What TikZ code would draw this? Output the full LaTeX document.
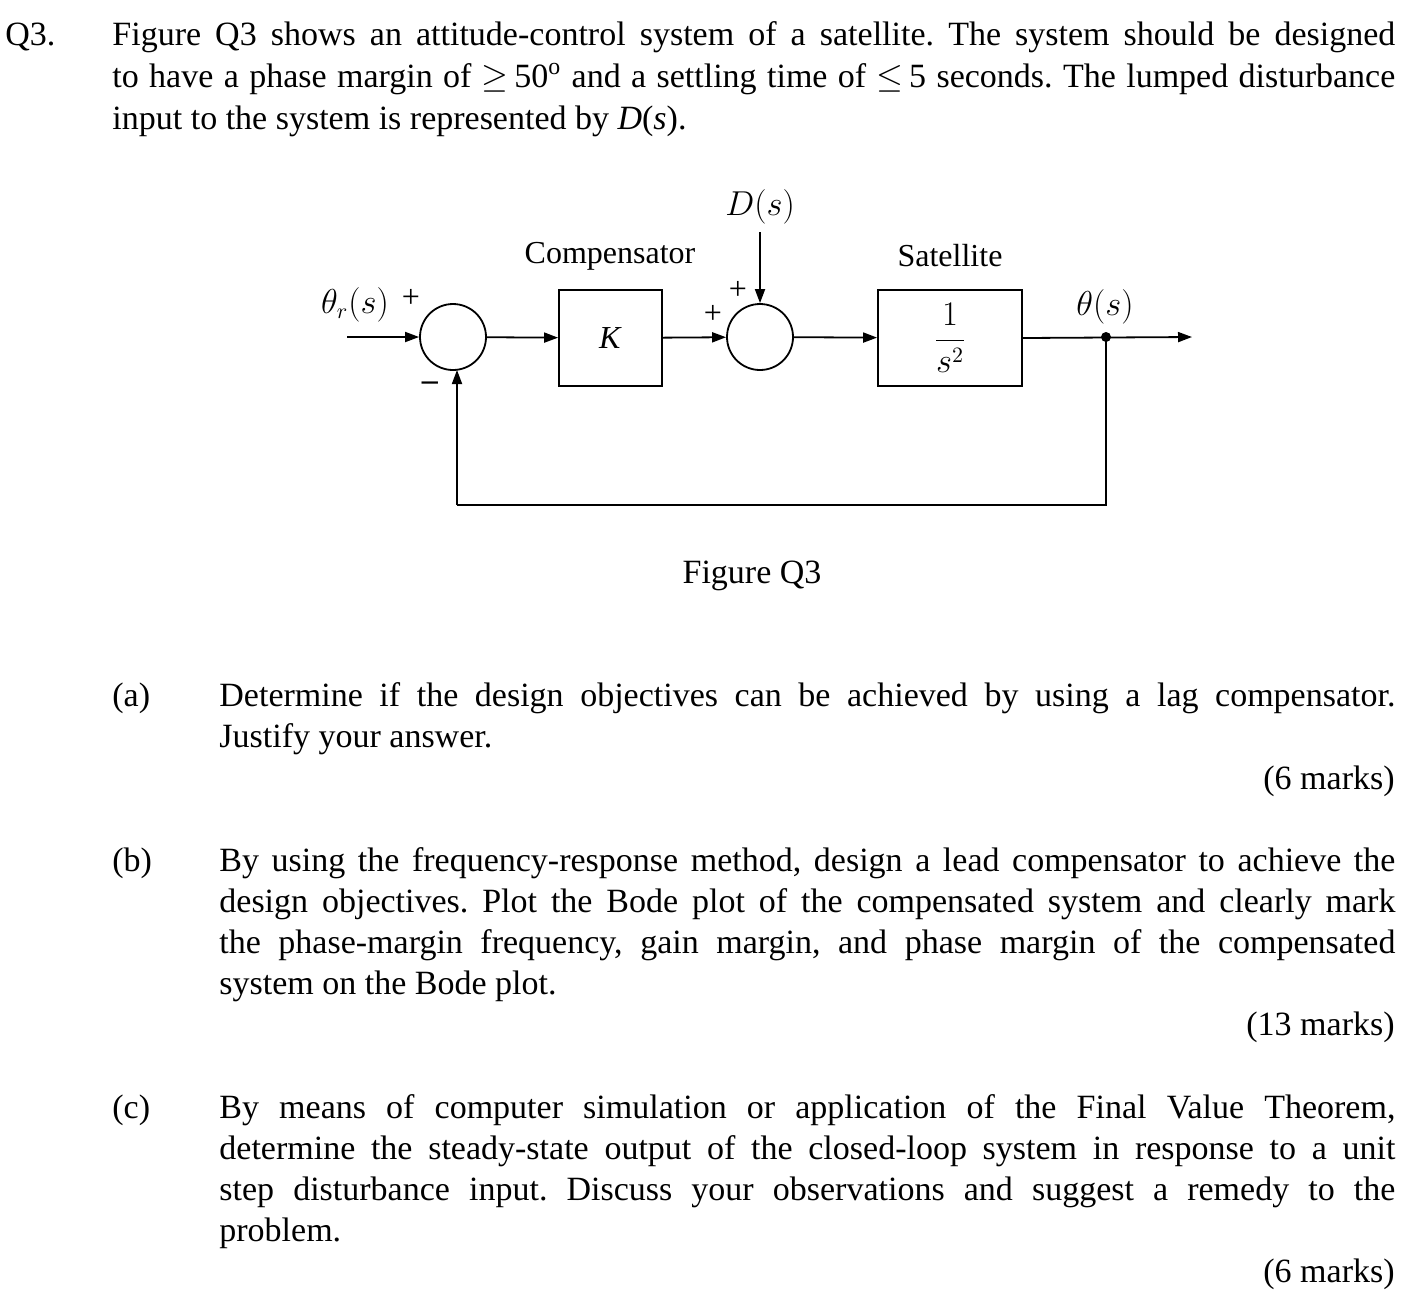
\documentclass[tikz,border=0pt]{standalone}
\usepackage{fontspec}
\setmainfont{Liberation Serif}
\usetikzlibrary{arrows.meta}
\frenchspacing
\begin{document}
\begin{tikzpicture}[x=0.5pt,y=-0.5pt,
  txt/.style={anchor=base west,inner sep=0,font=\fontsize{17}{20}\selectfont},
  txr/.style={anchor=base east,inner sep=0,font=\fontsize{17}{20}\selectfont},
  lab/.style={inner sep=0,font=\fontsize{16}{19}\selectfont},
  blk/.style={draw,line width=0.9pt,minimum width=51.5pt,minimum height=48pt,inner sep=0},
  sum/.style={draw,circle,line width=0.9pt,minimum size=33pt,inner sep=0},
  sig/.style={line width=0.9pt,-{Triangle[length=7pt,width=5pt]}},
  ln/.style={line width=0.9pt}]
\useasboundingbox (0,0) rectangle (1428,1308);
% header
\node[txt] (q) at (5,45) {Q3.};
\node[txt] (l1) at (112,45) {\makebox[641.5pt][s]{Figure Q3 shows an attitude-control system of a satellite. The system should be designed}};
\node[txt] (l2) at (112,87) {\makebox[641.5pt][s]{to have a phase margin of $\geq$\,50\textsuperscript{o} and a settling time of $\leq$\,5 seconds. The lumped disturbance}};
\node[txt] (l3) at (112,129) {input to the system is represented by \textit{D}(\textit{s}).};
% diagram
\node[sum] (s1) at (453,337) {};
\node[blk,minimum width=51.5pt] (k) at (610.5,338) {\fontsize{16}{19}\selectfont\textit{K}};
\node[sum] (s2) at (760,337) {};
\node[blk,minimum width=72pt] (g) at (950,338) {\fontsize{16}{19}\selectfont$\displaystyle\frac{1}{s^2}$};
\coordinate (in) at (347,337);
\coordinate (out) at (1192,337);
\coordinate (j) at (1106,337);
\coordinate (dtop) at (760,232);
\coordinate (fb1) at (1106,505);
\coordinate (fb2) at (457,505);
\draw[sig] (in) -- (s1);
\draw[sig] (s1) -- (k);
\draw[sig] (k) -- (s2);
\draw[sig] (s2) -- (g);
\draw[sig] (g.east) -- (out);
\draw[sig] (dtop) -- (s2);
\draw[ln] (j) -- (fb1) -- (fb2);
\draw[sig] (fb2) -- (457,370);
\fill (j) circle (2.5pt);
\node[lab] (ld) at (760,207) {$D(s)$};
\node[lab] (lc) at (610,256) {Compensator};
\node[lab] (ls) at (950,256) {Satellite};
\node[lab] (lr) at (355,305) {$\theta_r(s)$};
\node[lab] (p1) at (411,298) {+};
\node[lab] (m1) at (430,386) {\textbf{--}};
\node[lab] (p2) at (738,290) {+};
\node[lab] (p3) at (713,314) {+};
\node[lab] (lo) at (1105,307) {$\theta(s)$};
\node[txt,anchor=base] (cap) at (752,583) {Figure Q3};
% (a)
\node[txt] (a) at (112,706) {(a)};
\node[txt] (a1) at (219,706) {\makebox[588pt][s]{Determine if the design objectives can be achieved by using a lag compensator.}};
\node[txt] (a2) at (219,747) {Justify your answer.};
\node[txr] (am) at (1395,789) {(6 marks)};
% (b)
\node[txt] (b) at (112,871) {(b)};
\node[txt] (b1) at (219,871) {\makebox[588pt][s]{By using the frequency-response method, design a lead compensator to achieve the}};
\node[txt] (b2) at (219,912) {\makebox[588pt][s]{design objectives. Plot the Bode plot of the compensated system and clearly mark}};
\node[txt] (b3) at (219,953) {\makebox[588pt][s]{the phase-margin frequency, gain margin, and phase margin of the compensated}};
\node[txt] (b4) at (219,994) {system on the Bode plot.};
\node[txr] (bm) at (1395,1035) {(13 marks)};
% (c)
\node[txt] (c) at (112,1118) {(c)};
\node[txt] (c1) at (219,1118) {\makebox[588pt][s]{By means of computer simulation or application of the Final Value Theorem,}};
\node[txt] (c2) at (219,1159) {\makebox[588pt][s]{determine the steady-state output of the closed-loop system in response to a unit}};
\node[txt] (c3) at (219,1200) {\makebox[588pt][s]{step disturbance input. Discuss your observations and suggest a remedy to the}};
\node[txt] (c4) at (219,1241) {problem.};
\node[txr] (cm) at (1395,1282) {(6 marks)};
\end{tikzpicture}
\end{document}
